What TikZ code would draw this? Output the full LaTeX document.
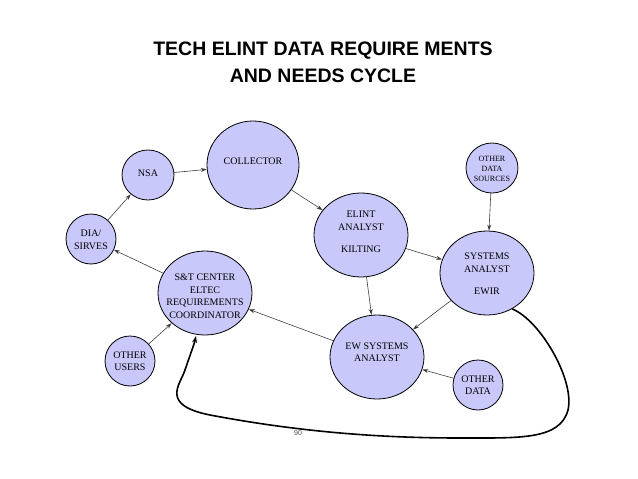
\documentclass[tikz,border=0pt]{standalone}
\usepackage{fontspec}
\setmainfont{Liberation Serif}
\newfontfamily\titlefont{Liberation Sans}
\usetikzlibrary{shapes.geometric,arrows.meta}
\definecolor{bub}{RGB}{200,200,250}
\tikzset{
 bubble/.style={ellipse,draw=black,line width=0.8pt,fill=bub,inner sep=0pt},
 conn/.style={draw=black!75,line width=0.6pt,-{Stealth[length=6pt,width=4pt]}},
 lbl/.style={font=\fontsize{10}{12.5}\selectfont,align=center,inner sep=0pt}
}
\begin{document}
\begin{tikzpicture}[x=1pt,y=-1pt]
\useasboundingbox (0,0) rectangle (638,479);
\node[font=\titlefont\bfseries\fontsize{19.5}{27}\selectfont,align=center] (title) at (323,62) {TECH ELINT DATA REQUIRE MENTS\\AND NEEDS CYCLE};
\node[bubble,minimum width=52pt,minimum height=50pt] (nsa) at (148,175) {};
\node[lbl] at (148,173) {NSA};
\node[bubble,minimum width=92pt,minimum height=88pt] (col) at (253,165) {};
\node[lbl] at (253,161) {COLLECTOR};
\node[bubble,minimum width=50pt,minimum height=50pt] (dia) at (91,239) {};
\node[lbl] at (91,240) {DIA/\\SIRVES};
\node[bubble,minimum width=94pt,minimum height=84pt] (st) at (205,293) {};
\node[lbl] at (205,296) {S\&T CENTER\\ELTEC\\REQUIREMENTS\\COORDINATOR};
\node[bubble,minimum width=50pt,minimum height=50pt] (ou) at (130,361) {};
\node[lbl] at (130,361) {OTHER\\USERS};
\node[bubble,minimum width=94pt,minimum height=84pt] (el) at (361,235) {};
\node[lbl] at (361,232) {ELINT\\ANALYST\\[10pt]KILTING};
\node[bubble,minimum width=52pt,minimum height=50pt] (ods) at (492,168) {};
\node[lbl,font=\fontsize{8}{10}\selectfont] at (492,169) {OTHER\\DATA\\SOURCES};
\node[bubble,minimum width=94pt,minimum height=84pt] (sa) at (487,273) {};
\node[lbl] at (487,274) {SYSTEMS\\ANALYST\\[10pt]EWIR};
\node[bubble,minimum width=94pt,minimum height=84pt] (ew) at (377,357) {};
\node[lbl] at (377,352) {EW SYSTEMS\\ANALYST};
\node[bubble,minimum width=50pt,minimum height=50pt] (od) at (478,385) {};
\node[lbl] at (478,385) {OTHER\\DATA};
\draw[conn] (dia) -- (nsa);
\draw[conn] (nsa) -- (col);
\draw[conn] (col) -- (el);
\draw[conn] (el) -- (sa);
\draw[conn] (el) -- (ew);
\draw[conn] (ods) -- (sa);
\draw[conn] (sa) -- (ew);
\draw[conn] (od) -- (ew);
\draw[conn] (ew) -- (st);
\draw[conn] (ou) -- (st);
\draw[conn] (st) -- (dia);
\draw[line width=1.6pt,-{Stealth[length=7pt,width=5pt]}] (sa.-55) .. controls (540,320) and (575,380) .. (568,410)
  .. controls (560,440) and (520,438) .. (460,438)
  .. controls (380,438) and (300,432) .. (210,415)
  .. controls (160,405) and (180,385) .. (185,370)
  .. controls (190,355) and (194,345) .. (196,336);
\node[font=\titlefont\fontsize{7}{8}\selectfont,text=black!70] (p) at (298,433) {90};
\end{tikzpicture}
\end{document}
